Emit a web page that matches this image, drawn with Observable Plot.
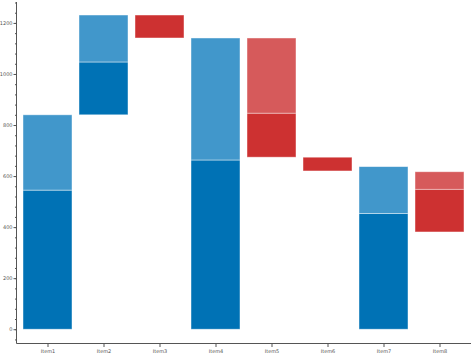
<!DOCTYPE html>
<html>
<head>
<meta charset="utf-8">
<script src="https://cdn.jsdelivr.net/npm/d3@7"></script>
<script src="https://cdn.jsdelivr.net/npm/@observablehq/plot@0.6"></script>
<style>
  html, body { margin: 0; padding: 0; background: #fff; }
</style>
</head>
<body>
<div id="chart"></div>
<script>
const items = ["Item1", "Item2", "Item3", "Item4", "Item5", "Item6", "Item7", "Item8"];
const segItem = ["Item1", "Item1", "Item2", "Item2", "Item3", "Item4", "Item4", "Item5", "Item5", "Item6", "Item7", "Item7", "Item8", "Item8"];
const segLow  = [0, 545, 840, 1047, 1141, 0, 663, 846, 674, 620, 0, 453, 548, 381];
const segHigh = [545, 840, 1047, 1231, 1231, 663, 1141, 1141, 846, 674, 453, 637, 617, 548];
const segKind = ["base", "gain", "base", "gain", "loss", "base", "gain", "lossLight", "loss", "loss", "base", "gain", "lossLight", "loss"];
const kinds = ["base", "gain", "loss", "lossLight"];
const kindColors = ["#0072b5", "#4197cb", "#cd3131", "#d65a5b"];
const majorTicks = [0, 200, 400, 600, 800, 1000, 1200];
const minorTicks = d3.range(-40, 1281, 40);

const segments = segItem.map((it, i) => ({item: it, low: segLow[i], high: segHigh[i], kind: segKind[i]}));

// axis spine lines along the plot frame edges
function spines(index, scales, values, dims) {
  const g = d3.create("svg:g").attr("stroke", "#555").attr("stroke-width", 1);
  const left = dims.marginLeft, bottom = dims.height - dims.marginBottom;
  g.append("line").attr("x1", left - 0.5).attr("x2", left - 0.5)
    .attr("y1", dims.marginTop).attr("y2", bottom + 0.5);
  g.append("line").attr("x1", left - 0.5).attr("x2", dims.width - dims.marginRight)
    .attr("y1", bottom + 0.5).attr("y2", bottom + 0.5);
  return g.node();
}

const chart = Plot.plot({
  width: 474,
  height: 360,
  marginTop: 2,
  marginBottom: 17,
  marginLeft: 17,
  marginRight: 3,
  style: {fontFamily: "DejaVu Sans, sans-serif", fontSize: "5px", color: "#555", background: "#fff"},
  x: {domain: items, paddingInner: 0.12, paddingOuter: 0.06, label: null},
  y: {domain: [-54, 1282], label: null},
  color: {domain: kinds, range: kindColors},
  marks: [
    Plot.barY(segments, {x: "item", y1: "low", y2: "high", fill: "kind", stroke: "#ffffff", strokeOpacity: 0.55, strokeWidth: 0.8}),
    Plot.axisY(minorTicks, {tickSize: 2, tickFormat: () => "", stroke: "#555", label: null}),
    Plot.axisY(majorTicks, {tickSize: 3.5, tickPadding: 1.5, tickFormat: d3.format("d"), stroke: "#555", label: null}),
    Plot.axisX({tickSize: 4, tickPadding: 2, stroke: "#555", strokeWidth: 1, label: null}),
    spines
  ]
});
document.getElementById("chart").appendChild(chart);
</script>
</body>
</html>
